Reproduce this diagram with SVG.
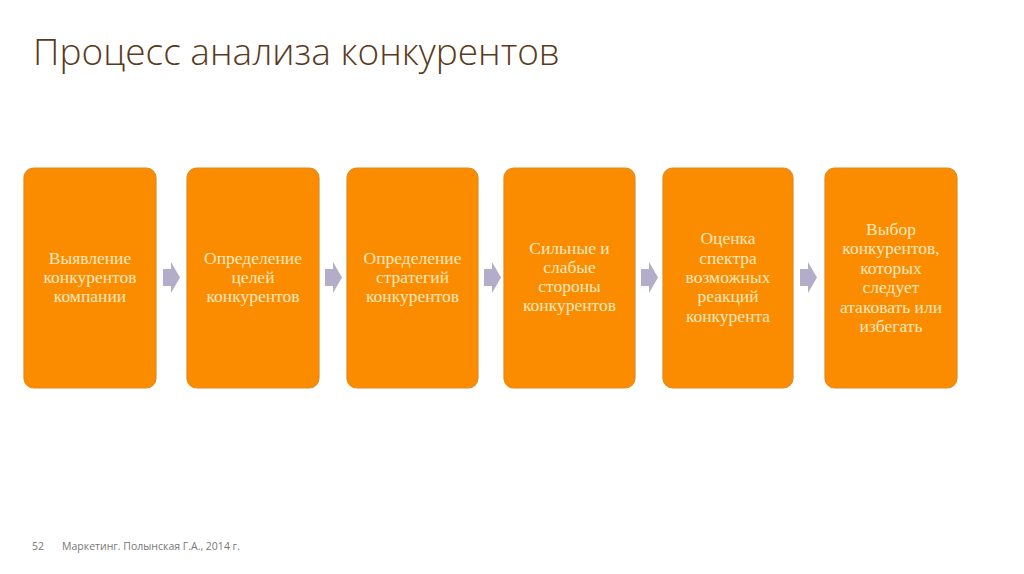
<svg xmlns="http://www.w3.org/2000/svg" width="1024" height="574" viewBox="0 0 1024 574">
<style>
.box{fill:#fb8c00;stroke:#e28a1e;stroke-width:1.2}
.lbl{font-family:"Liberation Serif",serif;font-size:17.5px;fill:#fde8bf;text-anchor:middle}
.arr{fill:#b4adc9}
.title{font-family:"Open Sans","Noto Sans",sans-serif;font-weight:300;font-size:37px;fill:#5a3b1c}
.foot{font-family:"Open Sans","Noto Sans",sans-serif;font-size:10.5px;fill:#777}
</style>
<rect width="1024" height="574" fill="#ffffff"/>
<text class="title" x="33" y="65">Процесс анализа конкурентов</text>
<g id="connectors">
<path class="arr" d="M163,269 L171,269 L171,262 L180,277.5 L171,293 L171,286 L163,286 Z"/>
<path class="arr" d="M325,269 L333,269 L333,262 L342,277.5 L333,293 L333,286 L325,286 Z"/>
<path class="arr" d="M484,269 L492,269 L492,262 L501,277.5 L492,293 L492,286 L484,286 Z"/>
<path class="arr" d="M641,269 L649,269 L649,262 L658,277.5 L649,293 L649,286 L641,286 Z"/>
<path class="arr" d="M800,269 L808,269 L808,262 L817,277.5 L808,293 L808,286 L800,286 Z"/>
</g>
<g id="n1"><rect class="box" x="24" y="168" width="132" height="220" rx="10"/>
<text class="lbl" x="90" y="264">Выявление</text><text class="lbl" x="90" y="283">конкурентов</text><text class="lbl" x="90" y="302">компании</text></g>
<g id="n2"><rect class="box" x="187" y="168" width="132" height="220" rx="10"/>
<text class="lbl" x="253" y="264">Определение</text><text class="lbl" x="253" y="283">целей</text><text class="lbl" x="253" y="302">конкурентов</text></g>
<g id="n3"><rect class="box" x="347" y="168" width="131" height="220" rx="10"/>
<text class="lbl" x="412.5" y="264">Определение</text><text class="lbl" x="412.5" y="283">стратегий</text><text class="lbl" x="412.5" y="302">конкурентов</text></g>
<g id="n4"><rect class="box" x="504" y="168" width="131" height="220" rx="10"/>
<text class="lbl" x="569.5" y="254">Сильные и</text><text class="lbl" x="569.5" y="273">слабые</text><text class="lbl" x="569.5" y="292">стороны</text><text class="lbl" x="569.5" y="311">конкурентов</text></g>
<g id="n5"><rect class="box" x="663" y="168" width="130" height="220" rx="10"/>
<text class="lbl" x="728" y="244">Оценка</text><text class="lbl" x="728" y="264">спектра</text><text class="lbl" x="728" y="283">возможных</text><text class="lbl" x="728" y="302">реакций</text><text class="lbl" x="728" y="322">конкурента</text></g>
<g id="n6"><rect class="box" x="825" y="168" width="132" height="220" rx="10"/>
<text class="lbl" x="891" y="235">Выбор</text><text class="lbl" x="891" y="254">конкурентов,</text><text class="lbl" x="891" y="274">которых</text><text class="lbl" x="891" y="293">следует</text><text class="lbl" x="891" y="313">атаковать или</text><text class="lbl" x="891" y="332">избегать</text></g>
<text class="foot" x="32" y="550">52</text>
<text class="foot" x="62" y="550">Маркетинг. Полынская Г.А., 2014 г.</text>
</svg>
